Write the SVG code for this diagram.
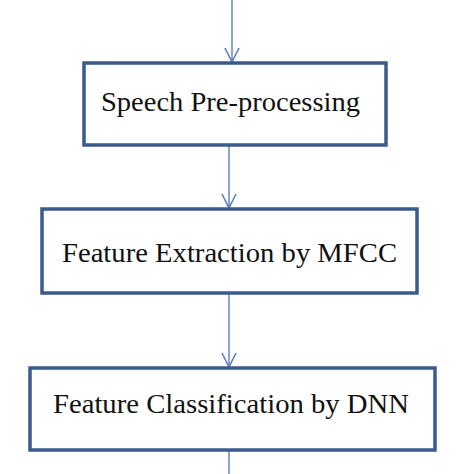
<svg xmlns="http://www.w3.org/2000/svg" width="474" height="474" viewBox="0 0 474 474">
<style>
.box{fill:#fff;stroke:#3b5b8c;stroke-width:3.5}
.lbl{font-family:"Liberation Serif","Times New Roman",serif;font-size:27px;fill:#111}
.con{stroke:#5a7fb6;stroke-width:1.4;fill:none}
</style>
<defs>
<marker id="arr" viewBox="0 0 16 16" refX="15" refY="8" markerWidth="16" markerHeight="16" markerUnits="userSpaceOnUse" orient="auto">
<path d="M1,1 L15,8 L1,15" fill="none" stroke="#5a7fb6" stroke-width="1.6"/>
</marker>
</defs>
<rect width="474" height="474" fill="#fff"/>
<g id="connectors">
<line class="con" x1="232" y1="0" x2="232" y2="62" marker-end="url(#arr)"/>
<line class="con" x1="229" y1="146" x2="229" y2="208" marker-end="url(#arr)"/>
<line class="con" x1="229" y1="294" x2="229" y2="367" marker-end="url(#arr)"/>
<line class="con" x1="229" y1="451" x2="229" y2="474"/>
</g>
<g id="node1">
<rect class="box" x="84" y="63" width="302" height="82"/>
<text class="lbl" x="101" y="111" textLength="259" lengthAdjust="spacingAndGlyphs">Speech Pre-processing</text>
</g>
<g id="node2">
<rect class="box" x="42" y="209" width="375" height="84"/>
<text class="lbl" x="62" y="262" font-size="28" textLength="335" lengthAdjust="spacingAndGlyphs">Feature Extraction by MFCC</text>
</g>
<g id="node3">
<rect class="box" x="30" y="368" width="405" height="82"/>
<text class="lbl" x="53" y="413" font-size="28" textLength="356" lengthAdjust="spacingAndGlyphs">Feature Classification by DNN</text>
</g>
</svg>
